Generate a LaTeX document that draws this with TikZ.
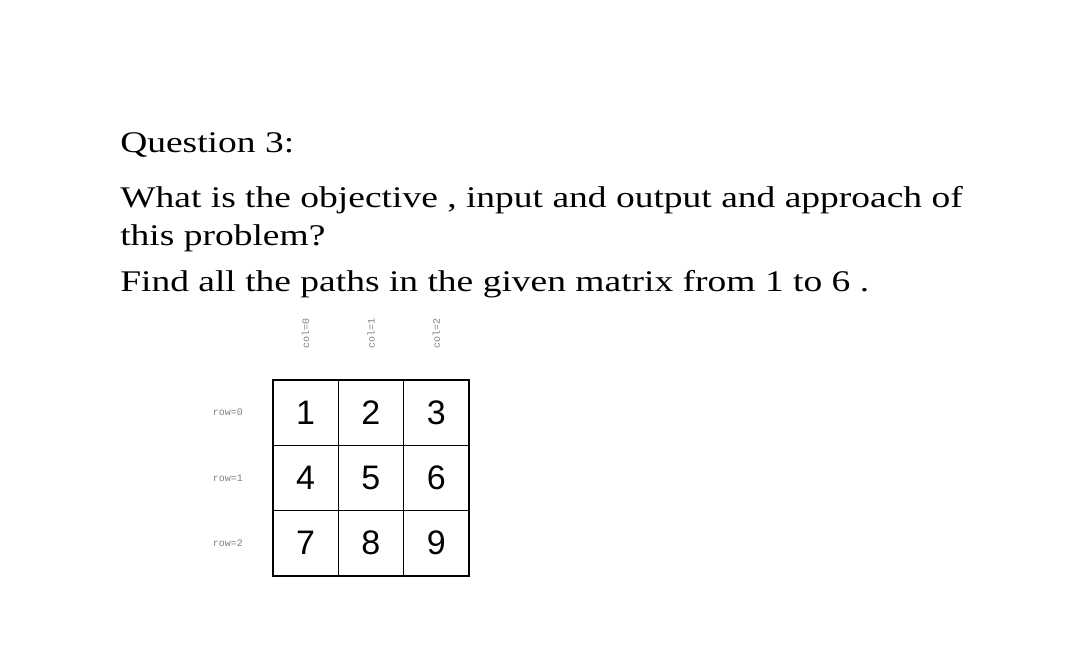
\documentclass[tikz,border=0pt]{standalone}
\usepackage{fontspec}
\setmainfont{Liberation Serif}
\newfontfamily\numfont{Liberation Sans}
\newfontfamily\lblfont{Liberation Mono}
\begin{document}
\begin{tikzpicture}[x=1pt,y=-1pt,
  qtext/.style={anchor=base west,inner sep=0pt,xscale=1.25,font=\fontsize{30}{34}\selectfont},
  cell/.style={draw,line width=1.4pt,minimum size=65.3pt,inner sep=0pt,font=\numfont\fontsize{34}{38}\selectfont},
  lbl/.style={text=black!50,inner sep=0pt,font=\lblfont\fontsize{10}{11}\selectfont}]
\useasboundingbox (0,0) rectangle (1080,649);
\node[qtext] (q1) at (120,152) {Question 3:};
\node[qtext] (q2) at (120,207) {What is the objective , input and output and approach of};
\node[qtext] (q3) at (120,245) {this problem?};
\node[qtext] (q4) at (120,291) {Find all the paths in the given matrix from 1 to 6 .};
\foreach \r in {0,1,2}{
  \foreach \c in {0,1,2}{
    \pgfmathtruncatemacro{\v}{3*\r+\c+1}
    \node[cell] (m\r\c) at ({273+32.65+65.3*\c},{380+32.65+65.3*\r}) {\v};
  }
  \node[lbl] (r\r) at (228,{380+32.65+65.3*\r}) {row=\r};
  \node[lbl,rotate=90] (c\r) at ({273+32.65+65.3*\r},333) {col=\r};
}
\end{tikzpicture}
\end{document}
